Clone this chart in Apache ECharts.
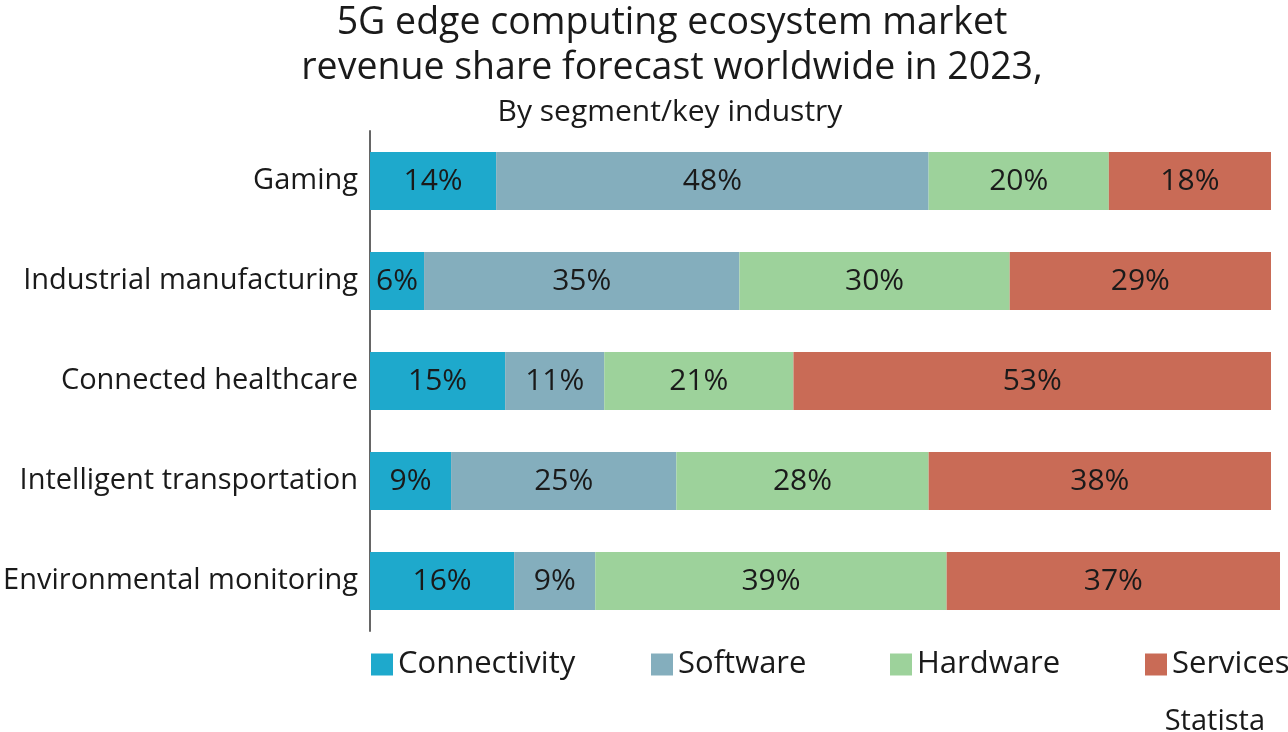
<!DOCTYPE html>
<html>
<head>
<meta charset="utf-8">
<script src="https://cdn.jsdelivr.net/npm/echarts@6/dist/echarts.min.js"></script>
<style>
  html, body { margin: 0; padding: 0; background: #fff; }
  #chart { width: 1288px; height: 732px; }
</style>
</head>
<body>
<div id="chart"></div>
<script>
const categories = ['Gaming', 'Industrial manufacturing', 'Connected healthcare', 'Intelligent transportation', 'Environmental monitoring'];
const connectivity = [14, 6, 15, 9, 16];
const software = [48, 35, 11, 25, 9];
const hardware = [20, 30, 21, 28, 39];
const services = [18, 29, 53, 38, 37];

const seriesNames = ['Connectivity', 'Software', 'Hardware', 'Services'];
const seriesData = [connectivity, software, hardware, services];
const colors = ['#1ea9cc', '#84aebd', '#9dd29b', '#c96b56'];
const legendLeft = [371, 651, 890, 1145];

const font = '"Open Sans", "Noto Sans", sans-serif';
const chart = echarts.init(document.getElementById('chart'));

chart.setOption({
  animation: false,
  textStyle: { fontFamily: font },
  title: [
    {
      text: '5G edge computing ecosystem market\nrevenue share forecast worldwide in 2023,',
      left: 667, top: -4, textAlign: 'center',
      textStyle: { fontSize: 37.5, fontWeight: 'normal', color: '#1a1a1a', lineHeight: 45, fontFamily: font }
    },
    {
      text: 'By segment/key industry',
      left: 665, top: 92, textAlign: 'center',
      textStyle: { fontSize: 30, fontWeight: 'normal', color: '#1a1a1a', fontFamily: font }
    },
    {
      text: 'Statista',
      right: 18, top: 702,
      textStyle: { fontSize: 29, fontWeight: 'normal', color: '#1a1a1a', fontFamily: font }
    }
  ],
  legend: seriesNames.map((n, i) => ({
    data: [n],
    left: legendLeft[i],
    top: 649,
    padding: 0,
    itemWidth: 22, itemHeight: 22,
    itemGap: 0,
    icon: 'rect',
    textStyle: { fontSize: 31, color: '#1a1a1a', fontFamily: font, padding: [0, 0, 0, 0] }
  })),
  grid: { left: 370, right: 17, top: 131, bottom: 101 },
  xAxis: {
    type: 'value', min: 0, max: 100,
    show: false
  },
  yAxis: {
    type: 'category',
    data: categories,
    inverse: true,
    axisLine: { show: true, lineStyle: { color: '#666', width: 2 } },
    axisTick: { show: false },
    axisLabel: { fontSize: 29, color: '#1a1a1a', margin: 12, fontFamily: font, padding: [3, 0, 0, 0] }
  },
  series: seriesNames.map((n, i) => ({
    name: n,
    type: 'bar',
    stack: 'total',
    clip: false,
    barCategoryGap: '42%',
    itemStyle: { color: colors[i] },
    label: {
      show: true,
      formatter: '{c}%',
      fontSize: 30,
      color: '#1a1a1a',
      fontFamily: font,
      padding: [3, 0, 0, 0]
    },
    data: seriesData[i]
  }))
});
</script>
</body>
</html>
